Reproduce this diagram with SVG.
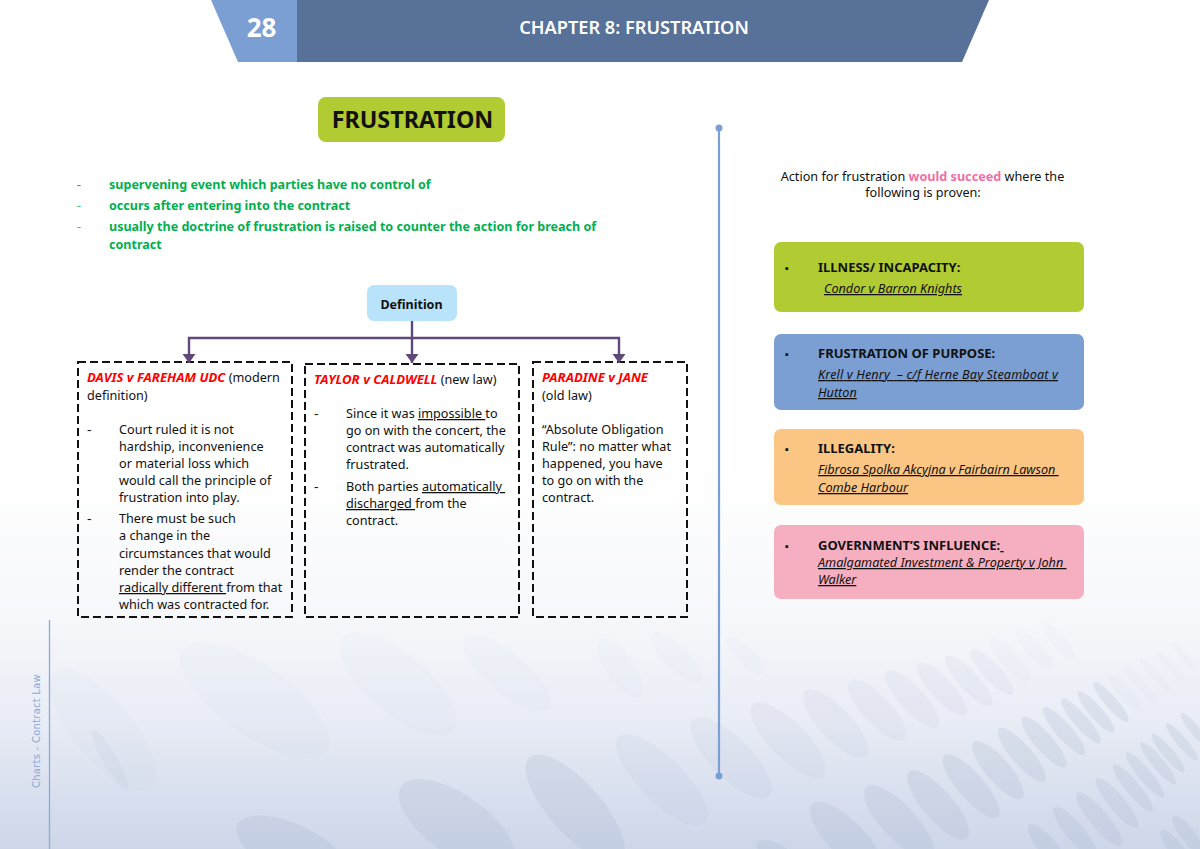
<svg xmlns="http://www.w3.org/2000/svg" width="1200" height="849" viewBox="0 0 1200 849">
<style>
text{font-family:"Noto Sans","Open Sans","Liberation Sans",sans-serif;font-size:12.65px;fill:#111}
.b{font-weight:700;font-size:13px}
.g{font-weight:700;font-size:12.55px;fill:#00b050}
.r{font-weight:700;font-style:italic;font-size:13.1px;fill:#f00}
.u{text-decoration:underline}
.i{font-style:italic}
.h{font-family:"Liberation Mono",monospace}
.dot{font-size:11px;font-weight:700}
.dash{fill:none;stroke:#111;stroke-width:2;stroke-dasharray:8 4}
.conn{fill:none;stroke:#5f497a;stroke-width:2.4}
.s1 ellipse{fill:#a9b3cc;opacity:.045}
.s2 ellipse{fill:#a9b3cc;opacity:.1}
.s3 ellipse{fill:#a2adc8;opacity:.2}
</style>
<defs>
<linearGradient id="bg" x1="0" y1="0" x2="0" y2="1">
<stop offset="0" stop-color="#fff"/><stop offset=".55" stop-color="#fff"/><stop offset=".72" stop-color="#f7f8fb"/><stop offset=".85" stop-color="#e8ecf5"/><stop offset="1" stop-color="#cdd6e9"/>
</linearGradient>
<marker id="arr" markerUnits="userSpaceOnUse" markerWidth="14" markerHeight="10" refX="7" refY="9" orient="0" viewBox="0 0 14 10">
<path d="M0.500 0H13.500L7 9Z" fill="#5f497a"/></marker>
</defs>
<rect width="1200" height="849" fill="url(#bg)"/>
<g id="background-spots">
<g class="s1">
<ellipse cx="255" cy="700" rx="88" ry="35" transform="rotate(35 255 700)"/>
<ellipse cx="398" cy="684" rx="72" ry="30" transform="rotate(40 398 684)"/>
<ellipse cx="507" cy="673" rx="55" ry="20" transform="rotate(40 507 673)"/>
<ellipse cx="103" cy="730" rx="75" ry="30" transform="rotate(50 103 730)"/>
<ellipse cx="677" cy="658" rx="35" ry="12" transform="rotate(45 677 658)"/>
<ellipse cx="620" cy="668" rx="35" ry="14" transform="rotate(55 620 668)"/>
<ellipse cx="745" cy="655" rx="25" ry="9" transform="rotate(45 745 655)"/>
<ellipse cx="1010" cy="660" rx="28" ry="9" transform="rotate(48 1010 660)"/>
<ellipse cx="1035" cy="650" rx="26" ry="8" transform="rotate(48 1035 650)"/>
<ellipse cx="1058" cy="640" rx="24" ry="7" transform="rotate(48 1058 640)"/>
<ellipse cx="1125" cy="693" rx="24" ry="6" transform="rotate(48 1125 693)"/>
<ellipse cx="1140" cy="684" rx="23" ry="5" transform="rotate(48 1140 684)"/>
<ellipse cx="1155" cy="675" rx="22" ry="5" transform="rotate(48 1155 675)"/>
<ellipse cx="1170" cy="666" rx="20" ry="4" transform="rotate(48 1170 666)"/>
<ellipse cx="1185" cy="657" rx="19" ry="4" transform="rotate(48 1185 657)"/>
</g>
<g class="s2">
<ellipse cx="110" cy="760" rx="35" ry="7" transform="rotate(60 110 760)"/>
<ellipse cx="662" cy="780" rx="61" ry="22" transform="rotate(45 662 780)"/>
<ellipse cx="731" cy="758" rx="54" ry="20" transform="rotate(45 731 758)"/>
<ellipse cx="788" cy="740" rx="50" ry="18" transform="rotate(45 788 740)"/>
<ellipse cx="836" cy="724" rx="45" ry="16" transform="rotate(47 836 724)"/>
<ellipse cx="877" cy="710" rx="40" ry="14" transform="rotate(47 877 710)"/>
<ellipse cx="912" cy="699" rx="38" ry="12" transform="rotate(47 912 699)"/>
<ellipse cx="942" cy="689" rx="35" ry="11" transform="rotate(47 942 689)"/>
<ellipse cx="969" cy="681" rx="33" ry="10" transform="rotate(47 969 681)"/>
<ellipse cx="992" cy="672" rx="30" ry="9" transform="rotate(47 992 672)"/>
</g>
<g class="s3">
<ellipse cx="292" cy="850" rx="60" ry="26" transform="rotate(25 292 850)"/>
<ellipse cx="457" cy="825" rx="68" ry="30" transform="rotate(35 457 825)"/>
<ellipse cx="575" cy="808" rx="68" ry="26" transform="rotate(48 575 808)"/>
<ellipse cx="775" cy="852" rx="20" ry="9" transform="rotate(25 775 852)"/>
<ellipse cx="846" cy="838" rx="48" ry="18" transform="rotate(45 846 838)"/>
<ellipse cx="899" cy="822" rx="48" ry="17" transform="rotate(47 899 822)"/>
<ellipse cx="938" cy="805" rx="44" ry="15" transform="rotate(49 938 805)"/>
<ellipse cx="971" cy="786" rx="41" ry="13" transform="rotate(49 971 786)"/>
<ellipse cx="998" cy="770" rx="37" ry="12" transform="rotate(49 998 770)"/>
<ellipse cx="1022" cy="755" rx="35" ry="10" transform="rotate(49 1022 755)"/>
<ellipse cx="1044" cy="742" rx="33" ry="9" transform="rotate(49 1044 742)"/>
<ellipse cx="1064" cy="731" rx="31" ry="8" transform="rotate(49 1064 731)"/>
<ellipse cx="1081" cy="721" rx="29" ry="7" transform="rotate(49 1081 721)"/>
<ellipse cx="1096" cy="712" rx="27" ry="6.500" transform="rotate(49 1096 712)"/>
<ellipse cx="1111" cy="702" rx="26" ry="6" transform="rotate(49 1111 702)"/>
<ellipse cx="1047" cy="846" rx="28" ry="9" transform="rotate(50 1047 846)"/>
<ellipse cx="1075" cy="832" rx="32" ry="9" transform="rotate(50 1075 832)"/>
<ellipse cx="1099" cy="819" rx="34" ry="9" transform="rotate(50 1099 819)"/>
<ellipse cx="1117" cy="803" rx="32" ry="8" transform="rotate(50 1117 803)"/>
<ellipse cx="1133" cy="788" rx="30" ry="7" transform="rotate(50 1133 788)"/>
<ellipse cx="1145" cy="775" rx="29" ry="6.500" transform="rotate(50 1145 775)"/>
<ellipse cx="1158" cy="763" rx="27" ry="6" transform="rotate(50 1158 763)"/>
<ellipse cx="1168" cy="753" rx="25" ry="5.500" transform="rotate(50 1168 753)"/>
<ellipse cx="1182" cy="742" rx="24" ry="5" transform="rotate(50 1182 742)"/>
<ellipse cx="1195" cy="730" rx="22" ry="5" transform="rotate(50 1195 730)"/>
<ellipse cx="1176" cy="849" rx="24" ry="7" transform="rotate(52 1176 849)"/>
<ellipse cx="1188" cy="835" rx="24" ry="7" transform="rotate(52 1188 835)"/>
</g>
</g>
<g id="header">
<polygon points="211,0 297,0 297,62 238,62" fill="#7c9fd3"/>
<polygon points="297,0 989,0 962,62 297,62" fill="#587199"/>
<text x="261.500" y="37" text-anchor="middle" style="font-size:26px;font-weight:700;fill:#fff">28</text>
<text x="634" y="34" text-anchor="middle" style="font-size:18.200px;font-weight:600;fill:#fff">CHAPTER 8: FRUSTRATION</text>
</g>
<g id="side-label">
<line x1="49.500" y1="620" x2="49.500" y2="849" stroke="#8ea9d6" stroke-width="1.300"/>
<text transform="translate(40 788) rotate(-90)" style="font-family:'DejaVu Sans',sans-serif;font-size:10px;letter-spacing:.25px;fill:#8ea9d6">Charts - Contract Law</text>
</g>
<g id="divider">
<line x1="719" y1="128" x2="719" y2="776" stroke="#7c9fd3" stroke-width="2.200"/>
<circle cx="719" cy="128" r="3.500" fill="#7c9fd3"/>
<circle cx="719" cy="776" r="3.500" fill="#7c9fd3"/>
</g>
<g id="title">
<rect x="318" y="97" width="187" height="45" rx="8" fill="#b1cb33"/>
<text x="412.500" y="128" text-anchor="middle" style="font-size:23.300px;font-weight:700;fill:#111">FRUSTRATION</text>
</g>
<g id="points">
<text x="75" y="189" class="h" style="fill:#3d85c6">-</text><text x="109" y="189" class="g">supervening event which parties have no control of</text>
<text x="75" y="210" class="h" style="fill:#4fb98a">-</text><text x="109" y="210" class="g">occurs after entering into the contract</text>
<text x="75" y="231" class="h" style="fill:#4fb98a">-</text><text x="109" y="231" class="g">usually the doctrine of frustration is raised to counter the action for breach of</text>
<text x="109" y="249" class="g">contract</text>
</g>
<g id="definition">
<rect x="367" y="285" width="90" height="36" rx="7" fill="#b8e3fa"/>
<text x="411.500" y="309" text-anchor="middle" class="b" style="font-size:12.500px">Definition</text>
</g>
<g id="davis">
<rect class="dash" x="78" y="362" width="214" height="255"/>
<text x="87" y="382"><tspan class="r">DAVIS v FAREHAM UDC</tspan> (modern</text>
<text x="87" y="400">definition)</text>
<text x="85.500" y="434" class="h">-</text><text x="119" y="434">Court ruled it is not</text>
<text x="119" y="451">hardship, inconvenience</text>
<text x="119" y="468">or material loss which</text>
<text x="119" y="485">would call the principle of</text>
<text x="119" y="502">frustration into play.</text>
<text x="85.500" y="523" class="h">-</text><text x="119" y="523">There must be such</text>
<text x="119" y="540">a change in the</text>
<text x="119" y="558">circumstances that would</text>
<text x="119" y="575">render the contract</text>
<text x="119" y="592"><tspan class="u">radically different </tspan>from that</text>
<text x="119" y="609">which was contracted for.</text>
</g>
<g id="taylor">
<rect class="dash" x="305" y="364" width="214" height="253"/>
<text x="314" y="384"><tspan class="r">TAYLOR v CALDWELL</tspan> (new law)</text>
<text x="312.500" y="418" class="h">-</text><text x="346" y="418">Since it was <tspan class="u">impossible </tspan>to</text>
<text x="346" y="435">go on with the concert, the</text>
<text x="346" y="452">contract was automatically</text>
<text x="346" y="469">frustrated.</text>
<text x="312.500" y="491" class="h">-</text><text x="346" y="491">Both parties <tspan class="u">automatically&#160;</tspan></text>
<text x="346" y="508"><tspan class="u">discharged </tspan>from the</text>
<text x="346" y="525">contract.</text>
</g>
<g id="paradine">
<rect class="dash" x="533" y="362" width="154" height="255"/>
<text x="542" y="382" class="r">PARADINE v JANE</text>
<text x="542" y="400">(old law)</text>
<text x="542" y="434">“Absolute Obligation</text>
<text x="542" y="451">Rule”: no matter what</text>
<text x="542" y="468">happened, you have</text>
<text x="542" y="485">to go on with the</text>
<text x="542" y="502">contract.</text>
</g>
<g id="connectors">
<path class="conn" d="M412 321V363" marker-end="url(#arr)"/>
<path class="conn" d="M189 363V338H619V363" marker-end="url(#arr)" marker-start="url(#arr)"/>
</g>
<g id="intro">
<text x="922.500" y="181" text-anchor="middle">Action for frustration <tspan style="font-weight:700;fill:#f06fa5">would succeed</tspan> where the</text>
<text x="923" y="197" text-anchor="middle">following is proven:</text>
</g>
<g id="illness">
<rect x="774" y="242" width="310" height="70" rx="7" fill="#b1cb33"/>
<text x="785" y="272" class="dot">▪</text><text x="818" y="272" class="b">ILLNESS/ INCAPACITY:</text>
<text x="824" y="293" class="i u">Condor v Barron Knights</text>
</g>
<g id="purpose">
<rect x="774" y="334" width="310" height="76" rx="7" fill="#7c9fd3"/>
<text x="785" y="358" class="dot">▪</text><text x="818" y="358" class="b">FRUSTRATION OF PURPOSE:</text>
<text x="818" y="379" class="i u" textLength="240">Krell v Henry &#160;– c/f Herne Bay Steamboat v</text>
<text x="818" y="397" class="i u">Hutton</text>
</g>
<g id="illegality">
<rect x="774" y="429" width="310" height="76" rx="7" fill="#fbc584"/>
<text x="785" y="453" class="dot">▪</text><text x="818" y="453" class="b">ILLEGALITY:</text>
<text x="818" y="474" class="i u">Fibrosa Spolka Akcyjna v Fairbairn Lawson&#160;</text>
<text x="818" y="492" class="i u">Combe Harbour</text>
</g>
<g id="government">
<rect x="774" y="525" width="310" height="74" rx="7" fill="#f6afc0"/>
<text x="785" y="550" class="dot">▪</text><text x="818" y="550" class="b">GOVERNMENT’S INFLUENCE:<tspan class="u">&#160;</tspan></text>
<text x="818" y="567" class="i u">Amalgamated Investment &amp; Property v John&#160;</text>
<text x="818" y="584" class="i u">Walker</text>
</g>
</svg>
